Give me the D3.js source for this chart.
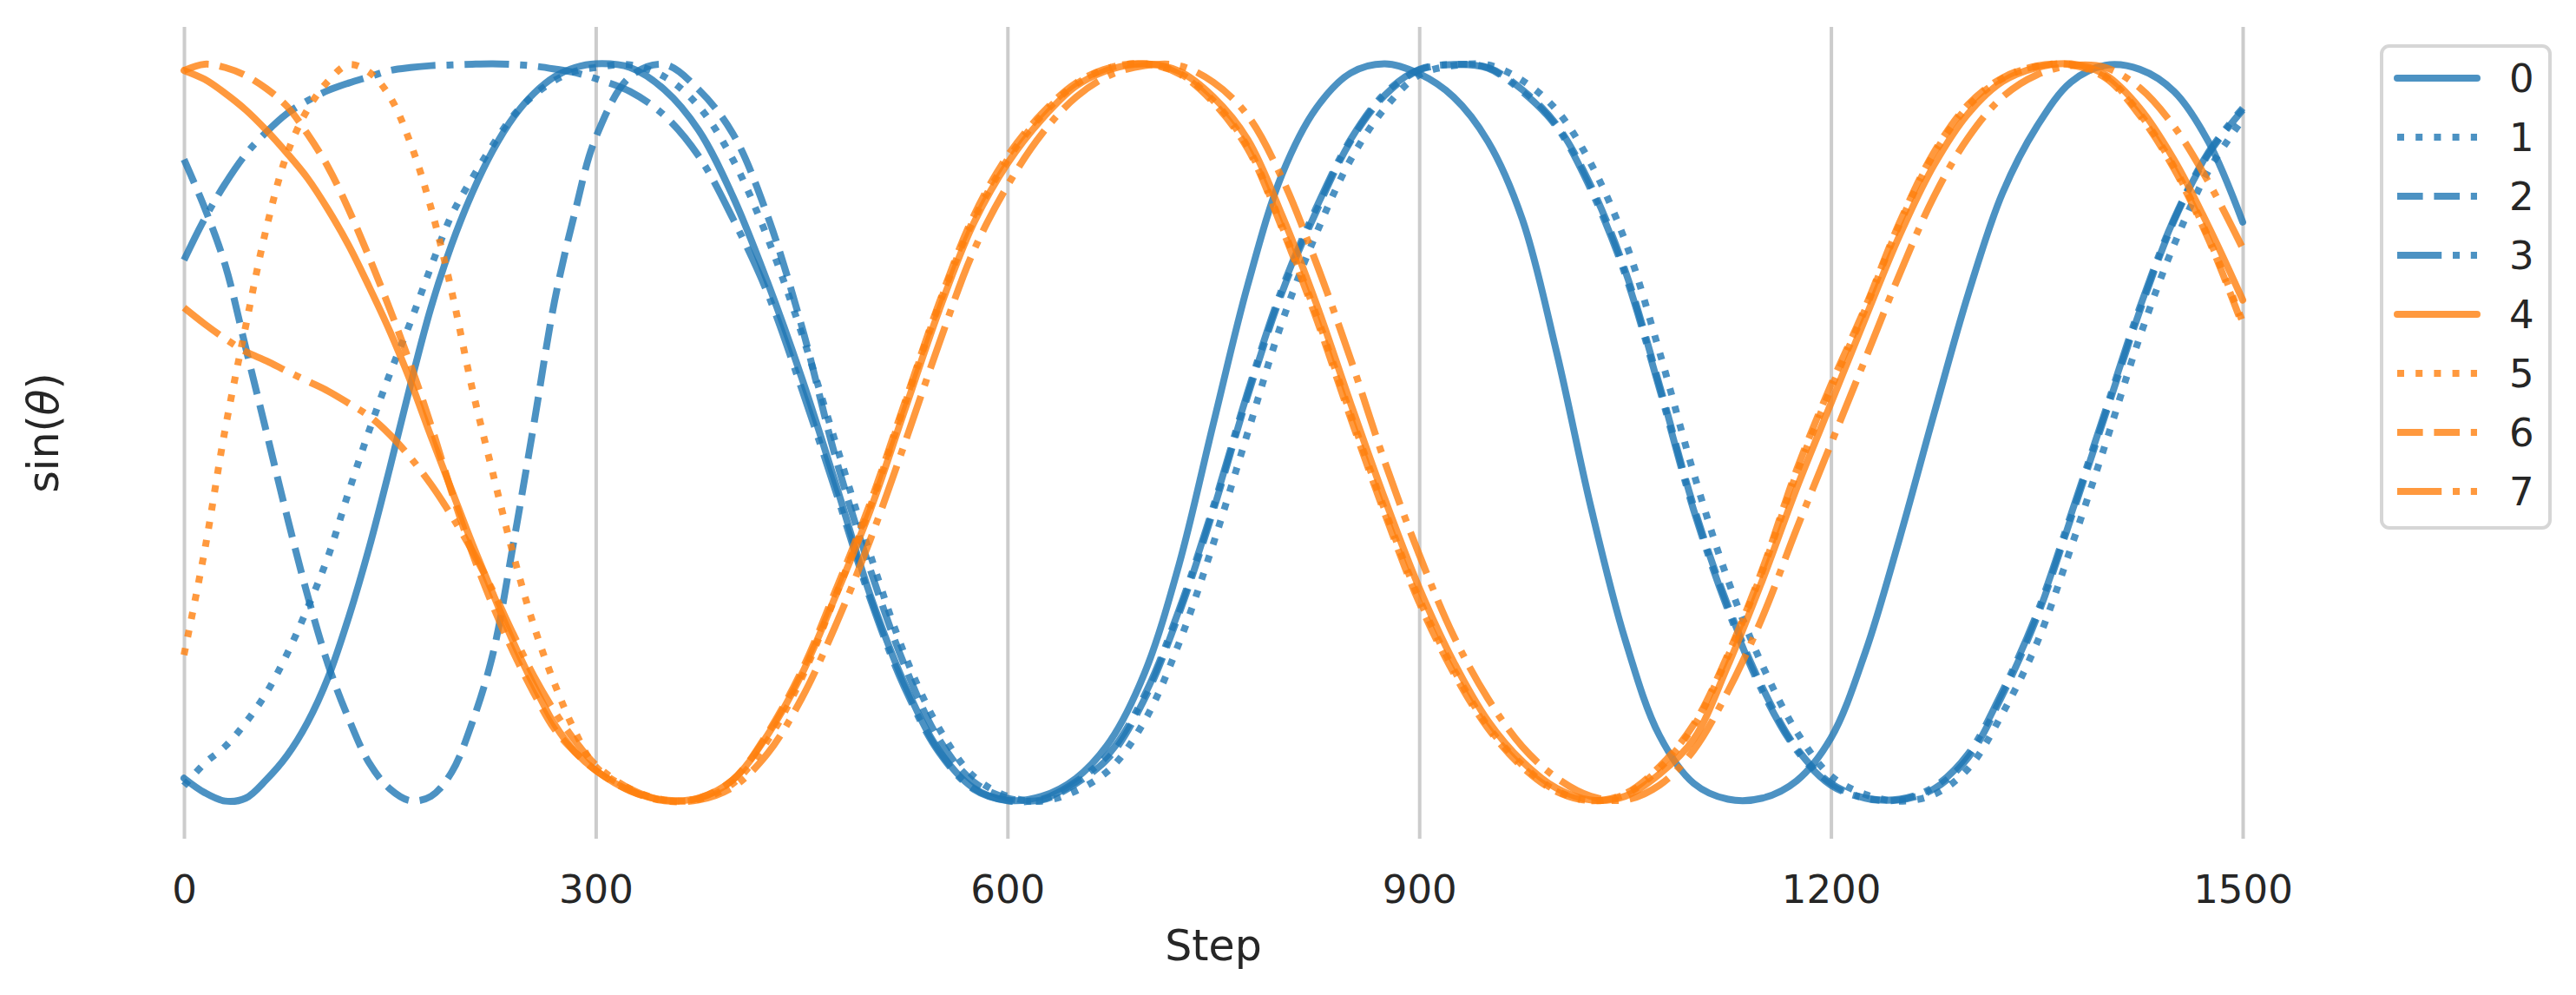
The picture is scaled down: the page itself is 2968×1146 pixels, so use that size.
<!DOCTYPE html>
<html>
<head>
<meta charset="utf-8">
<script src="https://cdn.jsdelivr.net/npm/d3@7"></script>
<style>
  body { margin: 0; background: #fff; }
  text { font-family: "DejaVu Sans", sans-serif; fill: #262626; }
</style>
</head>
<body>
<div id="chart"></div>
<script>
// sample positions (denser at the start where curves move fast)
var steps = [0, 15, 30, 45, 60, 75, 90, 105, 120, 135, 150, 165, 180, 195, 210, 225, 240, 255, 270, 285, 300,
    325, 350, 375, 400, 425, 450, 475, 500, 525, 550, 575, 600,
    625, 650, 675, 700, 725, 750, 775, 800, 825, 850, 875, 900,
    925, 950, 975, 1000, 1025, 1050, 1075, 1100, 1125, 1150, 1175, 1200,
    1225, 1250, 1275, 1300, 1325, 1350, 1375, 1400, 1425, 1450, 1475, 1500];

var xTicks = [0, 300, 600, 900, 1200, 1500];
var seriesNames = ["0", "1", "2", "3", "4", "5", "6", "7"];

// sin(theta), one array per series
var s0 = [-0.936, -0.975, -0.998, -0.99, -0.94, -0.875, -0.785, -0.663, -0.50, -0.31, -0.095, 0.13, 0.34, 0.51, 0.65, 0.765, 0.855, 0.92, 0.965, 0.99, 1.0,
    0.99, 0.93, 0.82, 0.64, 0.41, 0.15, -0.14, -0.44, -0.68, -0.86, -0.962, -0.996,
    -0.985, -0.936, -0.834, -0.65, -0.357, 0.025, 0.40, 0.70, 0.88, 0.975, 1.0, 0.973,
    0.91, 0.79, 0.58, 0.22, -0.20, -0.56, -0.82, -0.95, -0.993, -0.99, -0.943, -0.827,
    -0.595, -0.286, 0.05, 0.376, 0.65, 0.83, 0.951, 0.996, 0.985, 0.925, 0.789, 0.571];
var s1 = [-0.957, -0.896, -0.85, -0.785, -0.705, -0.60, -0.475, -0.335, -0.16, 0.007, 0.16, 0.30, 0.45, 0.59, 0.69, 0.78, 0.86, 0.915, 0.955, 0.98, 0.99,
    0.997, 0.965, 0.885, 0.74, 0.53, 0.27, -0.03, -0.33, -0.60, -0.80, -0.93, -0.985,
    -0.998, -0.97, -0.91, -0.78, -0.57, -0.30, 0.00, 0.30, 0.54, 0.74, 0.88, 0.97,
    0.995, 0.997, 0.955, 0.875, 0.73, 0.52, 0.22, -0.11, -0.40, -0.63, -0.81, -0.93,
    -0.98, -0.998, -0.98, -0.91, -0.76, -0.57, -0.31, -0.03, 0.26, 0.51, 0.71, 0.85];
var s2 = [0.741, 0.61, 0.455, 0.23, 0.003, -0.225, -0.44, -0.628, -0.775, -0.895, -0.965, -0.997, -0.985, -0.92, -0.785, -0.60, -0.30, 0.025, 0.357, 0.60, 0.80,
    0.965, 0.998, 0.93, 0.81, 0.59, 0.29, -0.07, -0.37, -0.63, -0.83, -0.945, -0.99,
    -0.995, -0.95, -0.875, -0.72, -0.49, -0.21, 0.10, 0.38, 0.60, 0.79, 0.915, 0.983,
    0.998, 0.99, 0.93, 0.835, 0.67, 0.44, 0.13, -0.20, -0.47, -0.69, -0.855, -0.95,
    -0.99, -0.995, -0.965, -0.88, -0.71, -0.50, -0.23, 0.05, 0.33, 0.575, 0.755, 0.875];
var s3 = [0.468, 0.58, 0.675, 0.755, 0.815, 0.865, 0.90, 0.928, 0.948, 0.965, 0.982, 0.99, 0.995, 0.997, 0.999, 1.0, 0.998, 0.994, 0.986, 0.976, 0.96,
    0.925, 0.86, 0.75, 0.58, 0.38, 0.12, -0.16, -0.45, -0.69, -0.865, -0.965, -0.997,
    -0.993, -0.945, -0.865, -0.71, -0.48, -0.20, 0.11, 0.39, 0.61, 0.795, 0.92, 0.985,
    0.998, 0.988, 0.925, 0.83, 0.66, 0.43, 0.12, -0.21, -0.48, -0.70, -0.86, -0.955,
    -0.99, -0.993, -0.96, -0.87, -0.70, -0.49, -0.22, 0.06, 0.34, 0.58, 0.76, 0.88];
var s4 = [0.982, 0.958, 0.92, 0.875, 0.82, 0.758, 0.69, 0.605, 0.508, 0.395, 0.275, 0.14, -0.01, -0.155, -0.30, -0.435, -0.568, -0.685, -0.79, -0.865, -0.915,
    -0.97, -0.995, -0.99, -0.94, -0.82, -0.655, -0.44, -0.21, 0.06, 0.33, 0.565, 0.73,
    0.85, 0.94, 0.985, 1.0, 0.98, 0.91, 0.795, 0.59, 0.35, 0.08, -0.18, -0.42,
    -0.62, -0.78, -0.89, -0.963, -0.995, -0.985, -0.925, -0.83, -0.63, -0.40, -0.15, 0.08,
    0.31, 0.535, 0.725, 0.865, 0.952, 0.99, 1.0, 0.97, 0.88, 0.74, 0.56, 0.36];
var s5 = [-0.602, -0.32, 0.01, 0.29, 0.554, 0.755, 0.876, 0.953, 0.998, 0.977, 0.911, 0.785, 0.609, 0.384, 0.12, -0.109, -0.331, -0.524, -0.68, -0.81, -0.905,
    -0.965, -0.995, -0.993, -0.95, -0.835, -0.665, -0.44, -0.20, 0.075, 0.345, 0.575, 0.74,
    0.86, 0.945, 0.99, 1.0, 0.975, 0.90, 0.775, 0.56, 0.32, 0.05, -0.21, -0.45,
    -0.64, -0.795, -0.90, -0.97, -0.997, -0.98, -0.91, -0.795, -0.605, -0.375, -0.11, 0.12,
    0.335, 0.565, 0.755, 0.885, 0.96, 0.993, 0.998, 0.965, 0.865, 0.72, 0.53, 0.30];
var s6 = [0.982, 0.999, 0.99, 0.968, 0.933, 0.885, 0.81, 0.72, 0.605, 0.475, 0.335, 0.185, 0.02, -0.16, -0.325, -0.468, -0.595, -0.706, -0.803, -0.866, -0.915,
    -0.97, -0.997, -0.99, -0.94, -0.815, -0.645, -0.425, -0.19, 0.08, 0.35, 0.585, 0.75,
    0.865, 0.948, 0.99, 1.0, 0.973, 0.895, 0.77, 0.555, 0.31, 0.04, -0.22, -0.46,
    -0.65, -0.80, -0.905, -0.972, -0.997, -0.978, -0.905, -0.79, -0.60, -0.37, -0.10, 0.13,
    0.34, 0.57, 0.76, 0.89, 0.962, 0.994, 0.997, 0.962, 0.86, 0.715, 0.525, 0.29];
var s7 = [0.339, 0.295, 0.255, 0.22, 0.195, 0.167, 0.14, 0.113, 0.08, 0.045, -0.005, -0.067, -0.14, -0.225, -0.32, -0.428, -0.546, -0.66, -0.755, -0.835, -0.90,
    -0.965, -0.997, -0.995, -0.96, -0.87, -0.72, -0.52, -0.29, -0.03, 0.24, 0.49, 0.67,
    0.81, 0.91, 0.97, 0.995, 0.995, 0.95, 0.86, 0.69, 0.46, 0.20, -0.08, -0.33,
    -0.55, -0.72, -0.85, -0.935, -0.985, -0.995, -0.955, -0.86, -0.70, -0.50, -0.26, -0.03,
    0.20, 0.43, 0.64, 0.80, 0.91, 0.97, 0.995, 0.99, 0.935, 0.83, 0.68, 0.50];

var allSeries = [s0, s1, s2, s3, s4, s5, s6, s7];

var width = 2968,
    height = 1146;
// plot box (named so they don't clash with window.top etc.)
var plotLeft = 212, plotRight = 2584, plotTop = 31, plotBottom = 966;
var lw = 8;

// matplotlib style dashes scaled by line width
var dashes = {
    solid: null,
    dotted: [1 * lw, 1.65 * lw],
    dashed: [3.7 * lw, 1.6 * lw],
    dashdot: [6.4 * lw, 1.6 * lw, 1 * lw, 1.6 * lw]
};
var styleOrder = ["solid", "dotted", "dashed", "dashdot"];
var colors = ["#1f77b4", "#ff7f0e"];

function styleOf(i) {
    return styleOrder[i % 4];
}
function colorOf(i) {
    return i < 4 ? colors[0] : colors[1];
}

var svg = d3.select("#chart")
    .append("svg")
    .attr("width", width)
    .attr("height", height)
    .attr("viewBox", "0 0 " + width + " " + height);

svg.append("rect").attr("width", width).attr("height", height).attr("fill", "#fff");

var x = d3.scaleLinear().domain([0, 1500]).range([plotLeft, plotRight]);
var y = d3.scaleLinear().domain([-1.1, 1.1]).range([plotBottom, plotTop]);

// vertical grid + tick labels via axis
var xAxis = d3.axisBottom(x)
    .tickValues(xTicks)
    .tickSize(-(plotBottom - plotTop))
    .tickFormat(d3.format("d"));

var gx = svg.append("g")
    .attr("transform", "translate(0," + plotBottom + ")")
    .call(xAxis);
gx.select(".domain").remove();
gx.selectAll(".tick line")
    .attr("stroke", "#cccccc")
    .attr("stroke-width", 4);
gx.selectAll(".tick text")
    .attr("y", 74)
    .attr("dy", null)
    .style("font-size", "45px")
    .style("font-family", "'DejaVu Sans', sans-serif")
    .attr("fill", "#262626");

// axis labels
svg.append("text")
    .attr("x", (plotLeft + plotRight) / 2)
    .attr("y", 1106)
    .attr("text-anchor", "middle")
    .style("font-size", "49px")
    .text("Step");

var ylab = svg.append("text")
    .attr("transform", "translate(67," + (plotTop + plotBottom) / 2 + ") rotate(-90)")
    .attr("text-anchor", "middle")
    .style("font-size", "49px");
ylab.append("tspan").text("sin(");
ylab.append("tspan").style("font-style", "italic").text("θ");
ylab.append("tspan").text(")");

var line = d3.line()
    .x(function (d, i) { return x(steps[i]); })
    .y(function (d) { return y(d); })
    .curve(d3.curveCatmullRom.alpha(0.5));

svg.append("g")
    .selectAll("path")
    .data(allSeries)
    .enter()
    .append("path")
    .attr("d", line)
    .attr("fill", "none")
    .attr("stroke", function (d, i) { return colorOf(i); })
    .attr("stroke-opacity", 0.8)
    .attr("stroke-width", lw)
    .attr("stroke-linejoin", "round")
    .attr("stroke-linecap", function (d, i) { return styleOf(i) === "solid" ? "round" : "butt"; })
    .attr("stroke-dasharray", function (d, i) {
        var ds = dashes[styleOf(i)];
        return ds ? ds.join(",") : null;
    });

// legend
var lg = svg.append("g").attr("transform", "translate(2744,53)");
var rowH = 68;
lg.append("rect")
    .attr("x", 0)
    .attr("y", 0)
    .attr("width", 194)
    .attr("height", 37 + rowH * 7 + 42)
    .attr("rx", 9)
    .attr("fill", "#fff")
    .attr("fill-opacity", 0.8)
    .attr("stroke", "#d6d6d6")
    .attr("stroke-width", 4);

var rows = lg.selectAll("g.row")
    .data(seriesNames)
    .enter()
    .append("g")
    .attr("class", "row")
    .attr("transform", function (d, i) { return "translate(0," + (37 + i * rowH) + ")"; });

rows.append("line")
    .attr("x1", 18)
    .attr("x2", 110)
    .attr("y1", 0)
    .attr("y2", 0)
    .attr("stroke", function (d, i) { return colorOf(i); })
    .attr("stroke-opacity", 0.8)
    .attr("stroke-width", lw)
    .attr("stroke-linecap", function (d, i) { return styleOf(i) === "solid" ? "round" : "butt"; })
    .attr("stroke-dasharray", function (d, i) {
        var ds = dashes[styleOf(i)];
        return ds ? ds.join(",") : null;
    });

rows.append("text")
    .attr("x", 147)
    .attr("y", 16)
    .style("font-size", "45px")
    .text(function (d) { return d; });
</script>
</body>
</html>
